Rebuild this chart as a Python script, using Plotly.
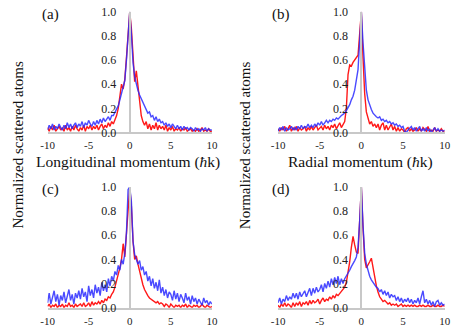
import numpy as np
import plotly.graph_objects as go

# momentum grid (hbar k), step 0.2
momentum = np.round(np.linspace(-10, 10, 101), 1)

a_red = [0.04,0.01,0.05,0.02,0.06,0.01,0.03,0.05,0.02,0.04,
         0.01,0.06,0.02,0.04,0.01,0.05,0.02,0.06,0.03,0.01,
         0.04,0.02,0.06,0.01,0.05,0.03,0.06,0.02,0.05,0.03,
         0.06,0.02,0.05,0.07,0.03,0.06,0.04,0.08,0.05,0.09,
         0.07,0.10,0.14,0.20,0.30,0.40,0.36,0.44,0.62,0.85,
         1.00,0.86,0.58,0.42,0.51,0.40,0.24,0.14,0.09,0.06,
         0.09,0.03,0.07,0.02,0.06,0.03,0.08,0.02,0.06,0.03,
         0.05,0.02,0.06,0.01,0.04,0.02,0.05,0.01,0.03,0.02,
         0.04,0.01,0.03,0.02,0.04,0.01,0.02,0.03,0.01,0.02,
         0.01,0.03,0.01,0.02,0.04,0.01,0.02,0.01,0.03,0.01,
         0.01]
a_blue = [0.02,0.06,0.03,0.07,0.02,0.05,0.03,0.07,0.04,0.02,
          0.06,0.03,0.08,0.04,0.07,0.03,0.06,0.08,0.04,0.07,
          0.05,0.09,0.04,0.08,0.06,0.10,0.07,0.05,0.09,0.06,
          0.10,0.07,0.11,0.08,0.12,0.09,0.11,0.13,0.10,0.14,
          0.14,0.17,0.19,0.22,0.27,0.33,0.38,0.43,0.60,0.84,
          1.00,0.82,0.58,0.46,0.39,0.35,0.31,0.28,0.24,0.21,
          0.19,0.16,0.17,0.13,0.14,0.10,0.13,0.09,0.11,0.08,
          0.09,0.06,0.08,0.05,0.07,0.04,0.07,0.05,0.03,0.06,
          0.03,0.05,0.02,0.05,0.03,0.04,0.02,0.04,0.03,0.01,
          0.04,0.02,0.03,0.01,0.03,0.02,0.04,0.01,0.03,0.02,
          0.02]
b_red = [0.03,0.01,0.04,0.02,0.05,0.01,0.03,0.06,0.01,0.04,
         0.02,0.05,0.01,0.04,0.02,0.03,0.05,0.01,0.04,0.02,
         0.05,0.02,0.04,0.06,0.02,0.04,0.05,0.02,0.06,0.03,
         0.05,0.02,0.06,0.04,0.07,0.03,0.06,0.08,0.04,0.07,
         0.09,0.20,0.48,0.56,0.55,0.58,0.60,0.63,0.64,0.82,
         1.00,0.62,0.32,0.17,0.11,0.07,0.09,0.05,0.07,0.04,
         0.07,0.02,0.06,0.08,0.02,0.06,0.02,0.05,0.07,0.02,
         0.05,0.01,0.04,0.01,0.03,0.02,0.00,0.03,0.04,0.01,
         0.03,0.01,0.02,0.04,0.01,0.03,0.01,0.04,0.02,0.01,
         0.05,0.01,0.02,0.01,0.04,0.01,0.02,0.01,0.03,0.01,
         0.01]
b_blue = [0.01,0.04,0.02,0.05,0.01,0.04,0.02,0.03,0.05,0.02,
          0.04,0.02,0.05,0.03,0.06,0.03,0.05,0.04,0.07,0.04,
          0.06,0.04,0.07,0.05,0.08,0.06,0.09,0.06,0.08,0.10,
          0.08,0.10,0.09,0.11,0.10,0.12,0.11,0.13,0.14,0.15,
          0.16,0.18,0.20,0.23,0.27,0.30,0.35,0.42,0.52,0.76,
          1.00,0.74,0.50,0.35,0.27,0.22,0.19,0.16,0.14,0.13,
          0.12,0.13,0.10,0.11,0.09,0.10,0.08,0.09,0.07,0.08,
          0.06,0.07,0.05,0.06,0.04,0.05,0.01,0.00,0.02,0.04,
          0.05,0.02,0.04,0.01,0.03,0.05,0.01,0.03,0.01,0.04,
          0.01,0.03,0.00,0.02,0.04,0.01,0.03,0.01,0.02,0.01,
          0.02]
c_red = [0.01,0.03,0.00,0.02,0.01,0.03,0.00,0.02,0.01,0.03,
         0.00,0.02,0.01,0.04,0.01,0.02,0.00,0.03,0.01,0.02,
         0.03,0.01,0.04,0.01,0.02,0.04,0.01,0.05,0.02,0.04,
         0.03,0.05,0.03,0.06,0.04,0.07,0.06,0.09,0.08,0.11,
         0.13,0.17,0.22,0.27,0.33,0.40,0.53,0.42,0.62,0.86,
         1.00,0.84,0.55,0.40,0.43,0.36,0.30,0.24,0.19,0.15,
         0.12,0.10,0.08,0.07,0.06,0.05,0.04,0.05,0.03,0.04,
         0.03,0.01,0.03,0.02,0.00,0.03,0.01,0.00,0.02,0.01,
         0.02,0.00,0.02,0.01,0.03,0.00,0.02,0.01,0.00,0.02,
         0.01,0.02,0.00,0.01,0.03,0.01,0.00,0.02,0.01,0.00,
         0.01]
c_blue = [0.04,0.12,0.03,0.09,0.14,0.05,0.11,0.02,0.10,0.06,
          0.13,0.04,0.09,0.15,0.06,0.11,0.03,0.12,0.08,0.14,
          0.07,0.16,0.09,0.13,0.05,0.18,0.10,0.15,0.08,0.19,
          0.12,0.17,0.10,0.21,0.14,0.19,0.13,0.24,0.18,0.26,
          0.22,0.30,0.27,0.35,0.31,0.40,0.36,0.45,0.62,0.98,
          1.00,0.88,0.55,0.44,0.40,0.36,0.39,0.31,0.34,0.27,
          0.30,0.22,0.26,0.18,0.24,0.16,0.21,0.14,0.23,0.12,
          0.17,0.10,0.15,0.08,0.13,0.11,0.06,0.14,0.07,0.12,
          0.05,0.11,0.08,0.04,0.12,0.06,0.09,0.03,0.10,0.05,
          0.08,0.03,0.07,0.05,0.02,0.08,0.04,0.06,0.02,0.05,
          0.03]
d_red = [0.02,0.00,0.03,0.01,0.04,0.01,0.03,0.02,0.00,0.04,
         0.01,0.04,0.02,0.05,0.01,0.04,0.03,0.05,0.02,0.06,
         0.03,0.06,0.04,0.05,0.07,0.03,0.06,0.08,0.05,0.07,
         0.06,0.09,0.07,0.10,0.08,0.11,0.10,0.12,0.13,0.15,
         0.17,0.21,0.28,0.38,0.50,0.59,0.52,0.46,0.45,0.75,
         1.00,0.66,0.40,0.33,0.35,0.38,0.41,0.33,0.24,0.18,
         0.13,0.09,0.07,0.05,0.06,0.04,0.03,0.04,0.02,0.03,
         0.02,0.03,0.01,0.02,0.03,0.01,0.02,0.01,0.02,0.01,
         0.02,0.01,0.02,0.01,0.01,0.02,0.01,0.02,0.01,0.01,
         0.02,0.01,0.01,0.02,0.01,0.01,0.02,0.01,0.01,0.02,
         0.01]
d_blue = [0.04,0.08,0.03,0.07,0.05,0.10,0.06,0.09,0.07,0.12,
          0.08,0.12,0.07,0.13,0.09,0.12,0.14,0.09,0.13,0.16,
          0.10,0.16,0.12,0.17,0.13,0.15,0.19,0.13,0.20,0.16,
          0.22,0.17,0.24,0.19,0.25,0.20,0.26,0.19,0.24,0.20,
          0.24,0.26,0.29,0.31,0.34,0.36,0.39,0.42,0.50,0.72,
          1.00,0.68,0.45,0.36,0.30,0.26,0.23,0.21,0.18,0.17,
          0.16,0.13,0.15,0.11,0.14,0.10,0.13,0.08,0.11,0.09,
          0.10,0.06,0.09,0.05,0.08,0.04,0.07,0.05,0.08,0.04,
          0.07,0.03,0.06,0.04,0.08,0.03,0.09,0.14,0.04,0.07,
          0.03,0.06,0.02,0.05,0.01,0.05,0.06,0.02,0.04,0.02,
          0.03]

panel_labels = ["(a)", "(b)", "(c)", "(d)"]
x_titles = ["Longitudinal momentum (<i>ħ</i>k)", "Radial momentum (<i>ħ</i>k)"]
y_title = "Normalized scattered atoms"
x_tickvals = [-10, -5, 0, 5, 10]
x_ticktext = ["-10", "-5", "0", "5", "10"]
y_tickvals = [0, 0.2, 0.4, 0.6, 0.8, 1.0]

W, H = 474, 329
FONT = "Liberation Serif, DejaVu Serif, serif"
RED = "#ff1a1a"
BLUE = "#2b2bff"
INK = "#111111"

# pixel geometry of the four panels: (x_left, x_right, y_top, y_bottom)
panels = [(41.7, 210.7, 5, 131), (278.7, 450, 5, 131),
          (41.7, 210.7, 188, 314), (278.7, 450, 188, 314)]
series = [(a_red, a_blue), (b_red, b_blue), (c_red, c_blue), (d_red, d_blue)]

fig = go.Figure()
layout = dict(width=W, height=H, margin=dict(l=0, r=0, t=0, b=0),
              paper_bgcolor="white", plot_bgcolor="white", showlegend=False,
              font=dict(family=FONT, color=INK))

for i, ((xl, xr, yt, yb), (red, blue)) in enumerate(zip(panels, series)):
    n = "" if i == 0 else str(i + 1)
    fig.add_trace(go.Scatter(x=momentum, y=red, mode="lines",
                             line=dict(color=RED, width=1.4),
                             xaxis="x" + n, yaxis="y" + n))
    fig.add_trace(go.Scatter(x=momentum, y=blue, mode="lines",
                             line=dict(color=BLUE, width=1.4), opacity=0.85,
                             xaxis="x" + n, yaxis="y" + n))
    xdom = [xl / W, xr / W]
    ydom = [1 - yb / H, 1 - yt / H]
    zero_px = xl + (xr - xl) * 0.5
    layout["xaxis" + n] = dict(domain=xdom, range=[-10, 10], anchor="y" + n,
                               tickvals=x_tickvals, ticktext=x_ticktext,
                               showgrid=False, zeroline=False, showline=True,
                               linecolor="#c8c8c8", linewidth=1.5, ticks="",
                               ticklabelstandoff=2,
                               tickfont=dict(family=FONT, size=11, color="#222"))
    layout["yaxis" + n] = dict(domain=ydom, range=[0, 1.0], anchor="free",
                               position=zero_px / W, tickvals=y_tickvals,
                               tickformat=".1f", showgrid=False, zeroline=False,
                               showline=True, linecolor="#c8c8c8", linewidth=2,
                               ticks="", ticklabelstandoff=10,
                               tickfont=dict(family=FONT, size=12, color="#222"))

fig.update_layout(**layout)

ann = []
for lab, (xl, xr, yt, yb) in zip(panel_labels, panels):
    ann.append(dict(text=lab, x=(xl + 3) / W, y=1 - (yt + 3) / H, xref="paper",
                    yref="paper", xanchor="center", yanchor="middle",
                    showarrow=False, font=dict(family=FONT, size=15, color=INK)))
for t, cx in zip(x_titles, [124, 363]):
    ann.append(dict(text=t, x=cx / W, y=1 - 161.5 / H, xref="paper", yref="paper",
                    xanchor="center", yanchor="middle", showarrow=False,
                    font=dict(family=FONT, size=15.5, color=INK)))
for cx in [11, 245]:
    ann.append(dict(text=y_title, x=cx / W, y=1 - 144 / H, xref="paper",
                    yref="paper", xanchor="center", yanchor="middle",
                    textangle=-90, showarrow=False,
                    font=dict(family=FONT, size=15, color=INK)))
fig.update_layout(annotations=ann)

fig.write_html("out.html")
